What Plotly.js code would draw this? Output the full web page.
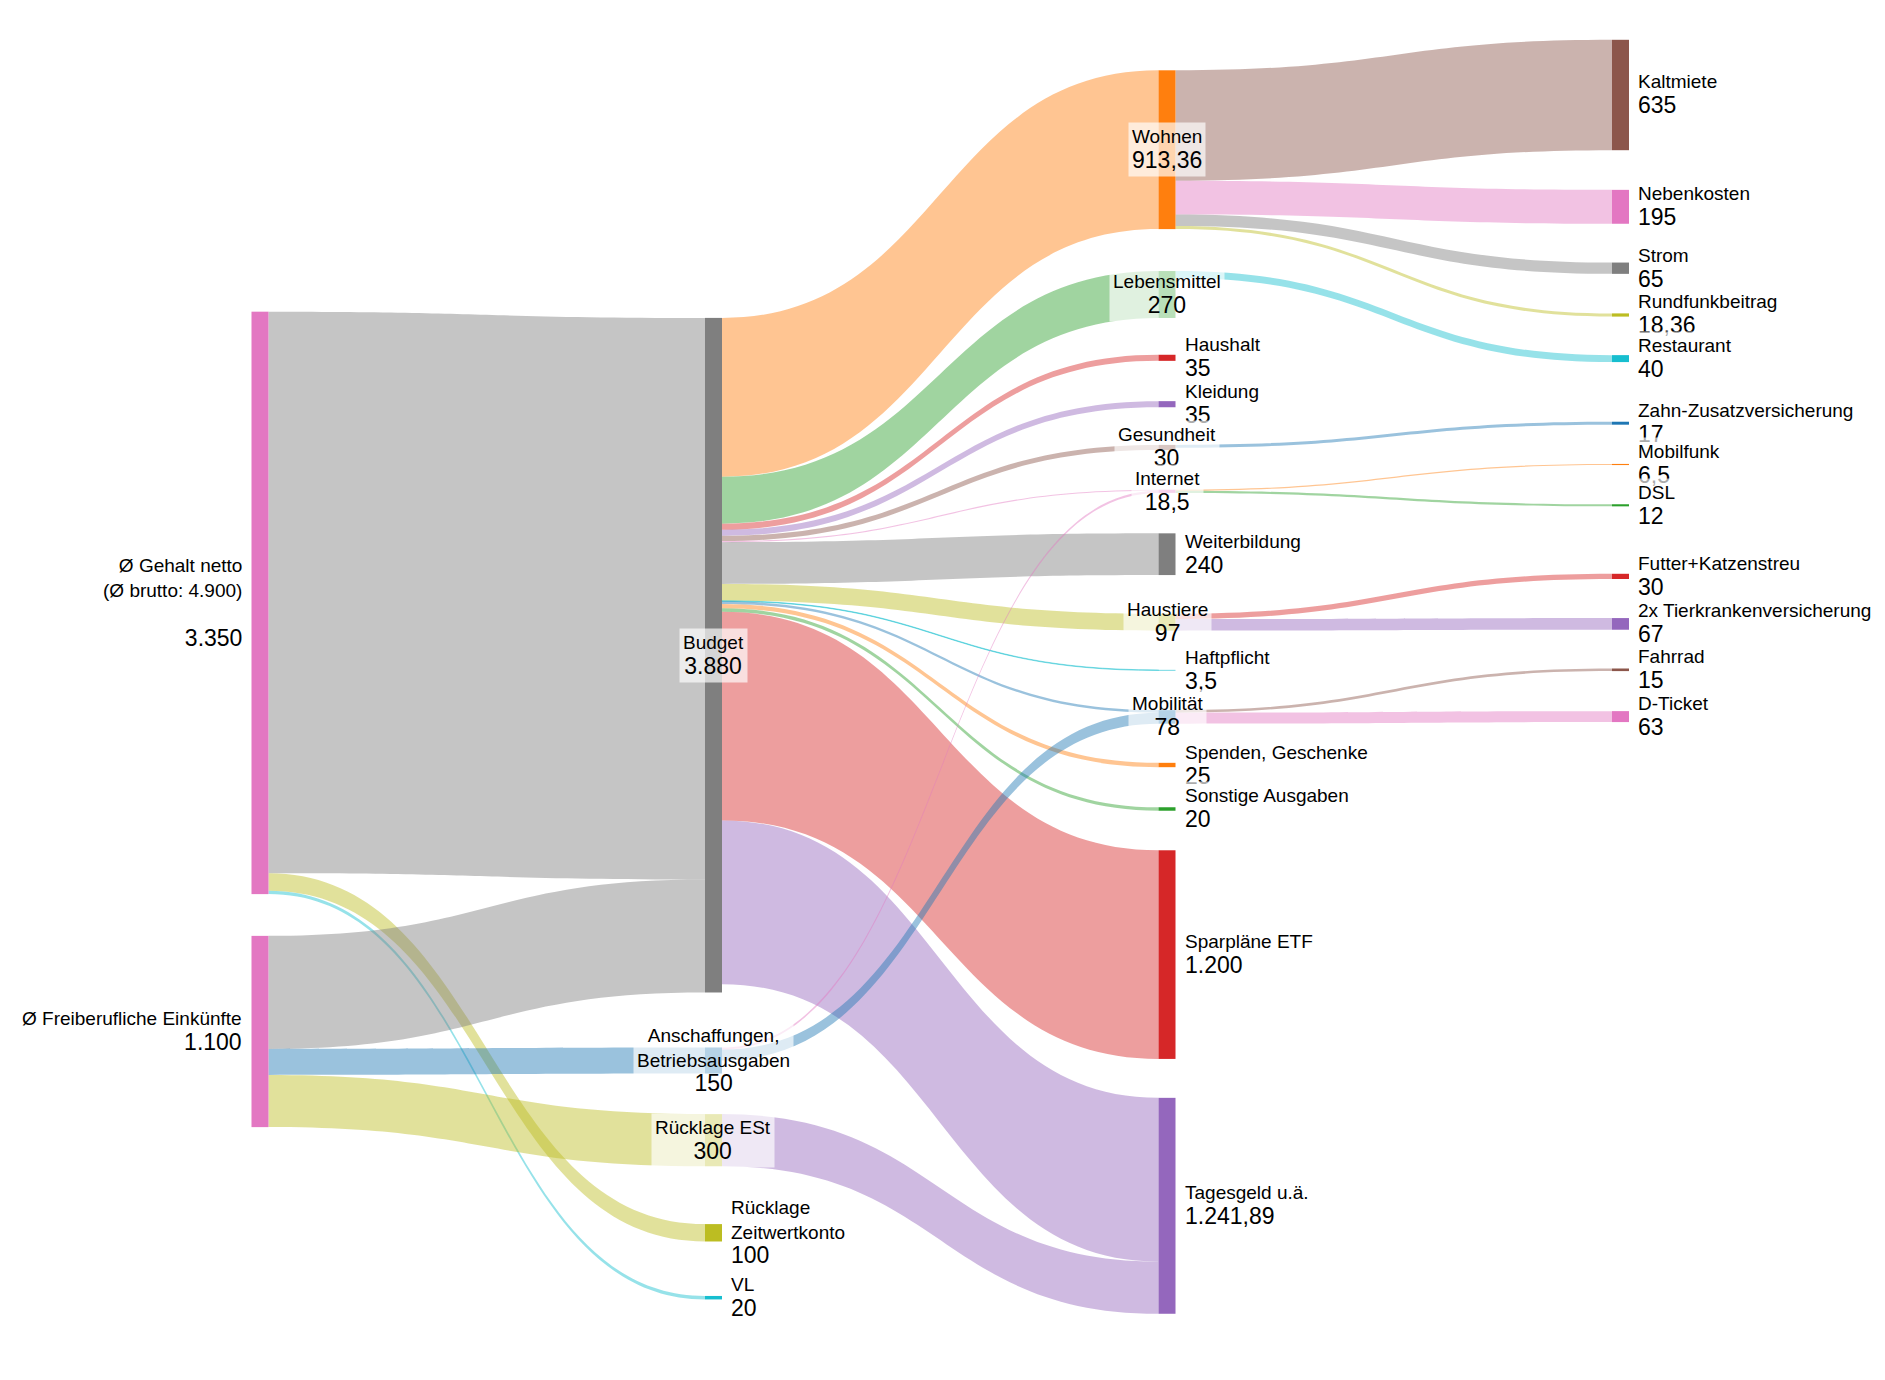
<!DOCTYPE html>
<html>
<head>
<meta charset="utf-8">
<script src="https://cdn.plot.ly/plotly-3.0.1.min.js"></script>
<style>html,body{margin:0;padding:0;background:#fff;}#chart{width:1885px;height:1380px;}</style>
</head>
<body>
<div id="chart"></div>
<script>
// ---------- DATA ----------
const nodeNames = [
  "Ø Gehalt netto<br>(Ø brutto: 4.900)<br>",
  "Ø Freiberufliche Einkünfte",
  "Budget",
  "Anschaffungen,<br>Betriebsausgaben",
  "Rücklage ESt",
  "Rücklage<br>Zeitwertkonto",
  "VL",
  "Wohnen",
  "Lebensmittel",
  "Haushalt",
  "Kleidung",
  "Gesundheit",
  "Internet",
  "Weiterbildung",
  "Haustiere",
  "Haftpflicht",
  "Mobilität",
  "Spenden, Geschenke",
  "Sonstige Ausgaben",
  "Sparpläne ETF",
  "Tagesgeld u.ä.",
  "Kaltmiete",
  "Nebenkosten",
  "Strom",
  "Rundfunkbeitrag",
  "Restaurant",
  "Zahn-Zusatzversicherung",
  "Mobilfunk",
  "DSL",
  "Futter+Katzenstreu",
  "2x Tierkrankenversicherung",
  "Fahrrad",
  "D-Ticket"
];

const linkSource = [0,0,0, 1,1,1, 2,2,2,2,2,2,2,2,2,2,2,2,2,2, 3,3, 4, 7,7,7,7, 8, 11, 12,12, 14,14, 16,16];
const linkTarget = [2,5,6, 2,3,4, 7,8,9,10,11,12,13,14,15,16,17,18,19,20, 16,12, 20, 21,22,23,24, 25, 26, 27,28, 29,30, 31,32];
const linkValue  = [3230,100,20, 650,150,300,
                    913.36,270,35,35,30,6.5,240,97,3.5,15,25,20,1200,941.89,
                    63,12, 300, 635,195,65,18.36, 40, 17, 6.5,12, 30,67, 15,63];

// ---------- STYLE / LAYOUT CONFIG ----------
const W = 1885, H = 1380;
const C = {blue:"#1f77b4", orange:"#ff7f0e", green:"#2ca02c", red:"#d62728", purple:"#9467bd",
           brown:"#8c564b", pink:"#e377c2", gray:"#7f7f7f", olive:"#bcbd22", cyan:"#17becf"};
const nodeColors = [C.pink,C.pink,C.gray,C.blue,C.olive,C.olive,C.cyan,
  C.orange,C.green,C.red,C.purple,C.brown,C.pink,C.gray,C.olive,C.cyan,C.blue,C.orange,C.green,C.red,C.purple,
  C.brown,C.pink,C.gray,C.olive,C.cyan,C.blue,C.orange,C.green,C.red,C.purple,C.brown,C.pink];

// node centre positions (fractions of the figure)
const colX = [0.13793, 0.37851, 0.61910, 0.85968];
const nodeCol = [0,0,1,1,1,1,1, 2,2,2,2,2,2,2,2,2,2,2,2,2,2, 3,3,3,3,3,3,3,3,3,3,3,3];
const nodeY = [0.43688,0.74746,0.47478,0.76848,0.82623,0.89333,0.94036,
  0.10848,0.21341,0.25928,0.29290,0.32428,0.35601,0.40159,0.45087,0.48565,0.51949,0.55435,0.58623,0.69174,0.87377,
  0.06884,0.14986,0.19435,0.22826,0.25986,0.30667,0.33659,0.36616,0.41768,0.45210,0.48536,0.51928];
// label placement: l = left of node, c = centred on node, r = right of node
const labelSide = ["l","l","c","c","c","r","r",
  "c","c","r","r","c","c","r","c","r","c","r","r","r","r",
  "r","r","r","r","r","r","r","r","r","r","r","r"];

const THICK = 17;
const PAD = 31.9;
const NAME_SIZE = 19, VALUE_SIZE = 23;

// ---------- HELPERS ----------
function rgba(hex, a){
  const n = parseInt(hex.slice(1),16);
  return `rgba(${(n>>16)&255},${(n>>8)&255},${n&255},${a})`;
}
function fmt(v){
  const s = (Math.round(v*100)/100).toFixed(2);
  let [i,d] = s.split(".");
  i = i.replace(/\B(?=(\d{3})+(?!\d))/g, ".");
  d = d.replace(/0+$/, "");
  return d ? i + "," + d : i;
}

// node values = max(inflow, outflow)
const inSum = nodeNames.map(()=>0), outSum = nodeNames.map(()=>0);
linkValue.forEach((v,k)=>{ outSum[linkSource[k]] += v; inSum[linkTarget[k]] += v; });
const nodeValue = nodeNames.map((_,i)=>Math.max(inSum[i], outSum[i]));

const nodeX = nodeCol.map(c=>colX[c]);

const trace = {
  type: "sankey",
  arrangement: "fixed",
  domain: {x:[0,1], y:[0,1]},
  node: {
    pad: PAD,
    thickness: THICK,
    line: {width: 0},
    color: nodeColors,
    x: nodeX,
    y: nodeY,
    label: nodeNames.map(()=>""),
    customdata: nodeNames.map(n=>n.replace(/<br>/g," ").trim()),
    hovertemplate: "%{customdata}: %{value}<extra></extra>"
  },
  link: {
    source: linkSource,
    target: linkTarget,
    value: linkValue,
    color: linkTarget.map(t=>rgba(nodeColors[t], 0.45)),
    line: {width: 0}
  }
};

// labels as annotations (drawn top to bottom so lower highlight boxes overlay upper labels)
const order = nodeNames.map((_,i)=>i).sort((a,b)=>nodeY[a]-nodeY[b]);
const annotations = order.map(i=>{
  const cx = nodeX[i]*W;
  const side = labelSide[i];
  let x, xanchor, align;
  if (side === "l") { x = (cx - THICK/2 - 5)/W; xanchor = "right"; align = "right"; }
  else if (side === "r") { x = (cx + THICK/2 + 5)/W; xanchor = "left"; align = "left"; }
  else { x = cx/W; xanchor = "center"; align = "center"; }
  return {
    xref: "paper", yref: "paper",
    x: x, y: 1 - nodeY[i],
    xanchor: xanchor, yanchor: "middle", align: align,
    showarrow: false,
    text: nodeNames[i] + "<br><span style='font-size:" + VALUE_SIZE + "px'>" + fmt(nodeValue[i]) + "</span>",
    font: {family: "Liberation Sans, Arial, sans-serif", size: NAME_SIZE, color: "#000"},
    bgcolor: "rgba(255,255,255,0.67)",
    borderpad: 3
  };
});

const layout = {
  width: W, height: H,
  margin: {l:0, r:0, t:0, b:0},
  paper_bgcolor: "#fff",
  plot_bgcolor: "#fff",
  font: {family: "Liberation Sans, Arial, sans-serif", size: 19, color: "#000"},
  annotations: annotations,
  showlegend: false
};

Plotly.newPlot("chart", [trace], layout, {displayModeBar: false, responsive: false});
</script>
</body>
</html>
